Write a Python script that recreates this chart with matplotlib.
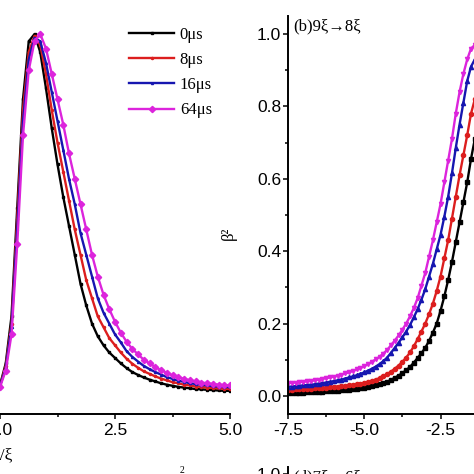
import matplotlib
matplotlib.use('Agg')
import matplotlib.pyplot as plt
import numpy as np
from matplotlib.ticker import MultipleLocator, FormatStrFormatter
from matplotlib.lines import Line2D

# ---------------- data ----------------
labels = ['0μs', '8μs', '16μs', '64μs']
colors = ['#000000', '#dc1e1e', '#1616b0', '#dc24dc']

# panel (a): x/xi from -0.25 to 5.0, step 0.125
xa = np.arange(-0.25, 5.0001, 0.125)
a_0 = [0.00, 0.005, 0.03, 0.09, 0.22, 0.52, 0.82, 0.98, 1.0, 0.95,
       0.85, 0.74, 0.64, 0.55, 0.47, 0.39, 0.31, 0.25, 0.20, 0.165,
       0.14, 0.12, 0.105, 0.09, 0.077, 0.066, 0.058, 0.051, 0.045, 0.040,
       0.035, 0.031, 0.028, 0.025, 0.023, 0.021, 0.019, 0.018, 0.017, 0.016,
       0.015, 0.014, 0.014]
a_8 = [0.00, 0.005, 0.028, 0.083, 0.20, 0.49, 0.79, 0.95, 0.995, 0.97,
       0.89, 0.79, 0.70, 0.62, 0.54, 0.46, 0.39, 0.32, 0.27, 0.22,
       0.19, 0.16, 0.14, 0.12, 0.103, 0.089, 0.078, 0.068, 0.061, 0.054,
       0.048, 0.043, 0.038, 0.035, 0.031, 0.029, 0.026, 0.025, 0.023, 0.022,
       0.021, 0.020, 0.019]
a_16 = [0.00, 0.005, 0.027, 0.077, 0.19, 0.46, 0.76, 0.93, 0.99, 0.98,
        0.92, 0.84, 0.76, 0.68, 0.60, 0.53, 0.45, 0.39, 0.33, 0.27,
        0.23, 0.20, 0.17, 0.148, 0.124, 0.108, 0.095, 0.083, 0.074, 0.066,
        0.059, 0.052, 0.047, 0.042, 0.039, 0.035, 0.033, 0.031, 0.029, 0.027,
        0.026, 0.025, 0.024]
a_64 = [0.00, 0.005, 0.025, 0.07, 0.17, 0.42, 0.72, 0.90, 0.98, 1.0,
        0.96, 0.89, 0.82, 0.75, 0.67, 0.60, 0.53, 0.46, 0.39, 0.33,
        0.28, 0.24, 0.205, 0.175, 0.15, 0.13, 0.115, 0.10, 0.09, 0.08,
        0.071, 0.064, 0.057, 0.052, 0.047, 0.043, 0.040, 0.037, 0.035, 0.033,
        0.031, 0.030, 0.029]

# panel (b): x/xi from -7.5 to -1.375, step 0.125
xb = np.arange(-7.5, -1.3749, 0.125)
b_0 = [0.008, 0.0083, 0.0087, 0.009, 0.0094, 0.0098, 0.0102, 0.0107, 0.0112, 0.0118,
       0.0124, 0.013, 0.0137, 0.0145, 0.0154, 0.0164, 0.0175, 0.0187, 0.020, 0.0213,
       0.023, 0.025, 0.027, 0.029, 0.032, 0.035, 0.039, 0.044, 0.050, 0.056,
       0.063, 0.071, 0.080, 0.092, 0.105, 0.118, 0.133, 0.152, 0.175, 0.20,
       0.235, 0.275, 0.32, 0.37, 0.425, 0.48, 0.535, 0.59, 0.655, 0.71]
b_8 = [0.017, 0.0175, 0.018, 0.0185, 0.019, 0.0196, 0.020, 0.021, 0.0215, 0.022,
       0.023, 0.024, 0.025, 0.026, 0.027, 0.028, 0.030, 0.031, 0.033, 0.034,
       0.036, 0.039, 0.042, 0.045, 0.049, 0.054, 0.060, 0.067, 0.075, 0.084,
       0.094, 0.106, 0.12, 0.137, 0.157, 0.178, 0.20, 0.226, 0.255, 0.29,
       0.33, 0.38, 0.43, 0.49, 0.55, 0.61, 0.665, 0.72, 0.78, 0.82]
b_16 = [0.025, 0.026, 0.027, 0.028, 0.029, 0.030, 0.031, 0.032, 0.034, 0.035,
        0.037, 0.039, 0.041, 0.043, 0.045, 0.048, 0.051, 0.054, 0.057, 0.061,
        0.065, 0.070, 0.075, 0.081, 0.088, 0.096, 0.106, 0.119, 0.133, 0.147,
        0.162, 0.178, 0.196, 0.217, 0.24, 0.266, 0.295, 0.33, 0.365, 0.405,
        0.445, 0.495, 0.55, 0.615, 0.685, 0.75, 0.81, 0.87, 0.91, 0.93]
b_64 = [0.035, 0.036, 0.037, 0.038, 0.039, 0.040, 0.041, 0.043, 0.045, 0.047,
        0.049, 0.051, 0.053, 0.056, 0.059, 0.062, 0.065, 0.069, 0.073, 0.077,
        0.082, 0.088, 0.094, 0.101, 0.108, 0.117, 0.127, 0.140, 0.153, 0.167,
        0.183, 0.20, 0.22, 0.243, 0.27, 0.305, 0.34, 0.385, 0.43, 0.48,
        0.53, 0.59, 0.65, 0.71, 0.78, 0.84, 0.89, 0.93, 0.96, 0.97]

# ---------------- figure ----------------
plt.rcParams['font.family'] = ['Liberation Sans', 'DejaVu Sans']
SERIF = ['Liberation Serif', 'DejaVu Serif']
W = 474.0
fig = plt.figure(figsize=(4.74, 4.74), dpi=100)


def rect(x0, top, w, h):
    return [x0 / W, 1 - (top + h) / W, w / W, h / W]


axA = fig.add_axes(rect(-230, 16, 460, 398))
axB = fig.add_axes(rect(288, 16, 457.5, 398))
axD = fig.add_axes(rect(288, 467, 457.5, 387))

for ax in (axA, axB, axD):
    for s in ('top', 'right'):
        ax.spines[s].set_visible(False)
    for s in ('left', 'bottom'):
        ax.spines[s].set_linewidth(1.4)
    ax.tick_params(which='both', direction='out', width=1.1, labelsize=12.5)
    ax.tick_params(which='major', length=3.8)
    ax.tick_params(which='minor', length=2.3)
    ax.tick_params(axis='y', pad=1)
    ax.tick_params(axis='x', pad=3)
    ax.xaxis.set_major_locator(MultipleLocator(2.5))
    ax.xaxis.set_minor_locator(MultipleLocator(1.25))
    ax.yaxis.set_major_locator(MultipleLocator(0.2))
    ax.yaxis.set_minor_locator(MultipleLocator(0.1))
    ax.xaxis.set_major_formatter(FormatStrFormatter('%.1f'))
    ax.yaxis.set_major_formatter(FormatStrFormatter('%.1f'))
    ax.set_facecolor('none')

axA.set_xlim(-5, 5)
axA.set_ylim(-0.05, 1.05)
axB.set_xlim(-7.5, 7.5)
axB.set_ylim(-0.05, 1.05)
axD.set_xlim(-7.5, 7.5)
axD.set_ylim(-0.05, 1.02)

# panel (a)
a_series = [a_0, a_8, a_16, a_64]
a_markers = ['s', 'o', '^', 'D']
a_ms = [1.5, 1.5, 1.5, 3.2]
for ys, c, m, ms, lab in zip(a_series, colors, a_markers, a_ms, labels):
    axA.plot(xa, ys, color=c, lw=1.7, marker=m, ms=ms, mec=c, mfc=c, label=lab)

handles = [Line2D([], [], color=c, lw=1.7, marker=m, ms=ms, mec=c, mfc=c)
           for c, m, ms in zip(colors, a_markers, a_ms)]
fig.legend(handles, labels, loc='upper left', bbox_to_anchor=(129 / W, 1 - 27 / W),
           frameon=False, prop={'family': SERIF, 'size': 12}, handlelength=2.7,
           handletextpad=0.35, labelspacing=0.55, borderpad=0, borderaxespad=0,
           markerscale=1.0, numpoints=1)

# panel (b)
b_series = [b_0, b_8, b_16, b_64]
b_markers = ['s', 'o', '^', 'v']
for ys, c, m in zip(b_series, colors, b_markers):
    axB.plot(xb, ys, color=c, lw=1.7, marker=m, ms=3.0, mec=c, mfc=c)

axB.text(0.012, 0.995, '(b)9ξ→8ξ', transform=axB.transAxes, ha='left', va='top',
         family=SERIF, fontsize=12)
axD.text(0.012, 1.0 - 2 / 387, '(d)7ξ→6ξ', transform=axD.transAxes, ha='left', va='top',
         family=SERIF, fontsize=12)

fig.text(229 / W, 1 - 233 / W, 'β²', rotation=90, ha='center', va='center',
         family=SERIF, fontsize=12)
fig.text(13 / W, 1 - 455 / W, 'x/ξ', ha='right', va='center', family=SERIF,
         fontsize=12.5)
fig.text(182 / W, 1 - 466 / W, '2', ha='center', va='top', family=SERIF, fontsize=7)

fig.savefig('out.png', dpi=100)
